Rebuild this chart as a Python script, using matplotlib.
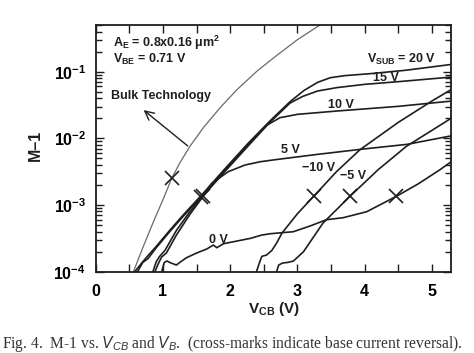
import numpy as np
import matplotlib
matplotlib.use("Agg")
import matplotlib.pyplot as plt
from matplotlib.ticker import FixedLocator, LogLocator, NullFormatter, LogFormatterMathtext

plt.rcParams['font.family'] = ['Liberation Sans', 'DejaVu Sans']
plt.rcParams['mathtext.fontset'] = 'custom'
plt.rcParams['mathtext.rm'] = 'Liberation Sans'
plt.rcParams['mathtext.it'] = 'Liberation Sans:italic'
plt.rcParams['mathtext.bf'] = 'Liberation Sans:bold'

# ---- data (V_CB in volts, log10(M-1)) ----
bulk_x = [0.56, 0.7, 0.85, 1.0, 1.13, 1.25, 1.4, 1.6, 1.85, 2.1, 2.4, 2.7, 3.0, 3.35]
bulk_log = [-4.0, -3.64, -3.27, -2.92, -2.60, -2.37, -2.12, -1.84, -1.54, -1.27, -0.99, -0.75, -0.52, -0.29]

v20_x = [0.58, 0.66, 0.75, 0.9, 1.1, 1.3, 1.575, 1.9, 2.27, 2.6, 2.89, 3.1, 3.3, 3.49, 3.7, 4.08, 4.6, 5.3]
v20_log = [-4.0, -3.9, -3.79, -3.62, -3.38, -3.15, -2.85, -2.48, -2.07, -1.73, -1.45, -1.28, -1.16, -1.09, -1.06, -1.03, -0.98, -0.89]

v15_x = [0.62, 0.7, 0.78, 0.9, 1.1, 1.3, 1.575, 1.9, 2.27, 2.6, 2.89, 3.08, 3.3, 3.58, 4.0, 4.5, 5.3]
v15_log = [-4.0, -3.86, -3.8, -3.64, -3.40, -3.17, -2.87, -2.50, -2.09, -1.75, -1.47, -1.37, -1.29, -1.24, -1.19, -1.15, -1.08]

v10_x = [0.85, 0.9, 0.95, 1.03, 1.2, 1.4, 1.575, 1.9, 2.27, 2.55, 2.74, 3.0, 3.59, 4.5, 5.3]
v10_log = [-4.0, -3.85, -3.77, -3.68, -3.38, -3.1, -2.89, -2.52, -2.11, -1.8, -1.69, -1.64, -1.59, -1.52, -1.44]

v5_x = [0.88, 0.93, 0.98, 1.05, 1.2, 1.4, 1.575, 1.72, 1.97, 2.22, 2.45, 2.67, 3.3, 3.98, 4.63, 5.3]
v5_log = [-4.0, -3.88, -3.78, -3.72, -3.45, -3.14, -2.9, -2.68, -2.5, -2.40, -2.35, -2.32, -2.24, -2.16, -2.09, -1.96]

v0_x = [0.98, 1.02, 1.06, 1.12, 1.2, 1.25, 1.35, 1.5, 1.65, 1.75, 1.8, 1.9, 2.1, 2.3, 2.47, 2.6,
        2.94, 3.2, 3.43, 3.68, 4.03, 4.47, 4.8, 5.12, 5.3]
v0_log = [-4.0, -3.86, -3.84, -3.87, -3.9, -3.86, -3.79, -3.72, -3.66, -3.6, -3.64, -3.58, -3.54, -3.5, -3.45, -3.43,
          -3.40, -3.31, -3.22, -3.19, -3.10, -2.87, -2.68, -2.47, -2.34]

vm10_x = [2.39, 2.44, 2.47, 2.54, 2.62, 2.69, 2.77, 3.0, 3.24, 3.58, 3.93, 4.5, 5.0, 5.3]
vm10_log = [-4.0, -3.85, -3.77, -3.75, -3.68, -3.57, -3.42, -3.13, -2.87, -2.5, -2.17, -1.76, -1.44, -1.26]

vm5_x = [2.69, 2.72, 2.78, 2.86, 2.94, 3.09, 3.38, 3.78, 4.2, 4.62, 5.0, 5.3]
vm5_log = [-4.0, -3.9, -3.87, -3.86, -3.84, -3.70, -3.27, -2.87, -2.47, -2.12, -1.88, -1.69]

cross_x = [1.13, 1.565, 1.59, 3.24, 3.78, 4.47]
cross_log = [-2.60, -2.88, -2.86, -2.87, -2.87, -2.87]

xticks_major = [0, 1, 2, 3, 4, 5]
xticks_half = [0.5, 1.5, 2.5, 3.5, 4.5]

fig = plt.figure(figsize=(4.74, 3.53), dpi=100)
ax = fig.add_axes([0.202, 0.2303, 0.749, 0.6987])

def val(a):
    return np.power(10.0, np.asarray(a))

dark = '#1e1e1e'
ax.plot(bulk_x, val(bulk_log), color='#6a6a6a', lw=0.9)
for xs, ys in [(v20_x, v20_log), (v15_x, v15_log), (v10_x, v10_log), (v5_x, v5_log),
               (v0_x, v0_log), (vm10_x, vm10_log), (vm5_x, vm5_log)]:
    ax.plot(xs, val(ys), color=dark, lw=1.2)
ax.plot(cross_x, val(cross_log), ls='none', marker='x', ms=10, mew=1.2, color=dark)

ax.set_yscale('log')
ax.set_xlim(0, 5.28)
ax.set_ylim(1e-4, 0.5)

ax.xaxis.set_major_locator(FixedLocator(xticks_major))
ax.xaxis.set_minor_locator(FixedLocator(xticks_half))
ax.yaxis.set_major_locator(LogLocator(base=10, numticks=10))
ax.yaxis.set_minor_locator(LogLocator(base=10, subs=np.arange(2, 10), numticks=10))
ax.yaxis.set_minor_formatter(NullFormatter())
ax.yaxis.set_major_formatter(LogFormatterMathtext())

ax.tick_params(which='both', direction='in', top=True, right=True, color=dark, width=1.0)
ax.tick_params(axis='x', which='both', length=6, pad=9, labelsize=11.5)
ax.tick_params(axis='y', which='major', length=6, pad=7, labelsize=11.5)
ax.tick_params(axis='y', which='minor', length=4)
for lab in ax.get_xticklabels() + ax.get_yticklabels():
    lab.set_fontweight('bold')
for s in ax.spines.values():
    s.set_linewidth(1.3)
    s.set_color(dark)

# axis labels
fig.text(273.5 / 474, 1 - 309 / 353, r'$\mathbf{V_{CB}}$ (V)', ha='center', va='center',
         fontsize=11, fontweight='bold', color=dark)
fig.text(35 / 474, 1 - 145 / 353, 'M–1', rotation=90, ha='center', va='center',
         fontsize=11.5, fontweight='bold', color=dark)

# annotations
tk = dict(fontsize=9, color=dark, fontweight='bold')
ax.text(0.26, 0.27, r'A$_\mathregular{E}$ = 0.8x0.16 $\mathregular{\mu}$m$^\mathregular{2}$', va='center', ha='left', **tk)
ax.text(0.26, 0.152, r'V$_\mathregular{BE}$ = 0.71 V', va='center', ha='left', **tk)
ax.text(0.23, 0.0427, 'Bulk Technology', va='center', ha='left', **tk)
ax.annotate('', xy=(0.68, 10 ** -1.55), xytext=(1.40, 10 ** -2.14),
            arrowprops=dict(arrowstyle='->', lw=1.0, color=dark, mutation_scale=16))

ax.text(4.03, 0.152, r'V$_\mathregular{SUB}$ = 20 V', va='center', ha='left', **tk)
ax.text(4.31, 0.081, '15 V', va='center', ha='center', **tk)
ax.text(3.65, 0.0321, '10 V', va='center', ha='center', **tk)
ax.text(2.90, 0.00676, '5 V', va='center', ha='center', **tk)
ax.text(3.32, 0.00359, '−10 V', va='center', ha='center', **tk)
ax.text(3.83, 0.00269, '−5 V', va='center', ha='center', **tk)
ax.text(1.83, 0.0003, '0 V', va='center', ha='center', **tk)

# caption
fig.text(0.004, 1 - 348 / 353,
         r'Fig. 4.  M-1 vs. $V_{CB}$ and $V_{B}$.  (cross-marks indicate base current reversal).',
         ha='left', va='baseline', fontsize=11.2, family='Liberation Serif', color='#333333')

fig.savefig('out.png', dpi=100)
